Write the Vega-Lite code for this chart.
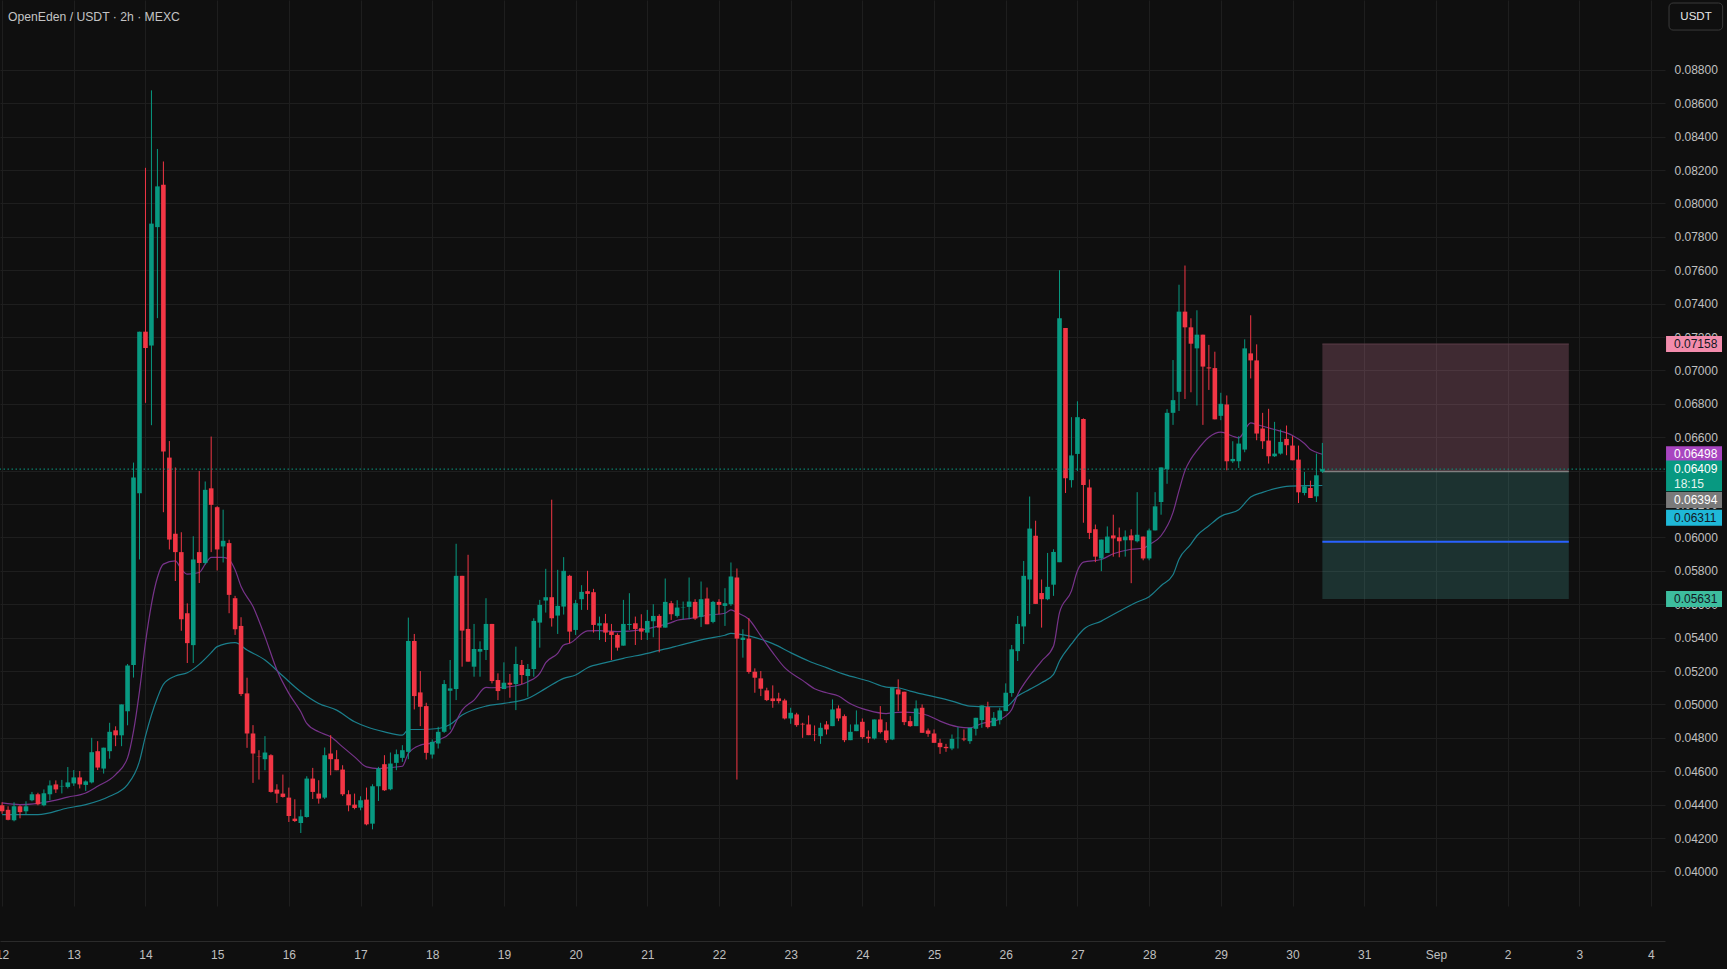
{
"$schema":"https://vega.github.io/schema/vega-lite/v6.json",
"width":1665,"height":906,
"autosize":{"type":"none"},
"padding":{"left":0,"top":0,"right":62,"bottom":63},
"background":"#0f0f0f",
"config":{"view":{"stroke":null},"font":"Liberation Sans","axisY":{"labelOverlap":false},"scale":{"continuousPadding":0}},
"title":{"text":"OpenEden / USDT · 2h · MEXC","anchor":"start","frame":"group","offset":-23.5,"dx":8,"fontSize":12.2,"fontWeight":"normal","color":"#c4c4c4","font":"Liberation Sans"},
"resolve":{"axis":{"x":"independent","y":"independent"}},
"datasets":{
"pos":[{"start":"2025-08-30T10:00","end":"2025-09-02T20:30","entry":0.06394,"stop":0.07158,"target":0.05631,"level":0.05974}],
"labels":[{"name":"stop","value":0.07158,"extra":""},{"name":"fast","value":0.06498,"extra":""},{"name":"last","value":0.06409,"extra":"18:15"},{"name":"entry","value":0.06394,"extra":""},{"name":"slow","value":0.06311,"extra":""},{"name":"target","value":0.05631,"extra":""}],
"fast":[{"t":"2025-08-12T00:00","v":0.0441},{"t":"2025-08-12T06:00","v":0.0440},{"t":"2025-08-12T16:00","v":0.0442},{"t":"2025-08-12T22:00","v":0.04445},{"t":"2025-08-13T04:00","v":0.0447},{"t":"2025-08-13T08:00","v":0.0451},{"t":"2025-08-13T14:00","v":0.0458},{"t":"2025-08-13T18:00","v":0.0468},{"t":"2025-08-13T20:00","v":0.0484},{"t":"2025-08-13T22:00","v":0.0508},{"t":"2025-08-14T00:00","v":0.0537},{"t":"2025-08-14T04:00","v":0.0576},{"t":"2025-08-14T06:00","v":0.0584},{"t":"2025-08-14T10:00","v":0.0586},{"t":"2025-08-14T12:00","v":0.0581},{"t":"2025-08-14T14:00","v":0.0578},{"t":"2025-08-14T18:00","v":0.0579},{"t":"2025-08-14T20:00","v":0.0584},{"t":"2025-08-14T22:00","v":0.0588},{"t":"2025-08-15T02:00","v":0.0588},{"t":"2025-08-15T04:00","v":0.05866},{"t":"2025-08-15T06:00","v":0.05806},{"t":"2025-08-15T08:00","v":0.05706},{"t":"2025-08-15T12:00","v":0.05586},{"t":"2025-08-15T16:00","v":0.05406},{"t":"2025-08-15T20:00","v":0.05206},{"t":"2025-08-16T00:00","v":0.05066},{"t":"2025-08-16T04:00","v":0.04956},{"t":"2025-08-16T06:00","v":0.04886},{"t":"2025-08-16T10:00","v":0.04836},{"t":"2025-08-16T14:00","v":0.04806},{"t":"2025-08-16T18:00","v":0.04746},{"t":"2025-08-16T22:00","v":0.04686},{"t":"2025-08-17T02:00","v":0.04626},{"t":"2025-08-17T06:00","v":0.04616},{"t":"2025-08-17T10:00","v":0.04622},{"t":"2025-08-17T14:00","v":0.0463},{"t":"2025-08-17T16:00","v":0.04706},{"t":"2025-08-17T20:00","v":0.04756},{"t":"2025-08-18T00:00","v":0.0477},{"t":"2025-08-18T02:00","v":0.04786},{"t":"2025-08-18T06:00","v":0.0483},{"t":"2025-08-18T10:00","v":0.04966},{"t":"2025-08-18T14:00","v":0.05026},{"t":"2025-08-18T18:00","v":0.05102},{"t":"2025-08-18T20:00","v":0.051},{"t":"2025-08-19T02:00","v":0.05106},{"t":"2025-08-19T08:00","v":0.05136},{"t":"2025-08-19T12:00","v":0.05186},{"t":"2025-08-19T14:00","v":0.0525},{"t":"2025-08-19T18:00","v":0.05306},{"t":"2025-08-19T20:00","v":0.05356},{"t":"2025-08-19T22:00","v":0.05366},{"t":"2025-08-20T04:00","v":0.0544},{"t":"2025-08-20T08:00","v":0.05442},{"t":"2025-08-20T14:00","v":0.05436},{"t":"2025-08-20T22:00","v":0.05446},{"t":"2025-08-21T04:00","v":0.0547},{"t":"2025-08-21T08:00","v":0.0549},{"t":"2025-08-21T10:00","v":0.05504},{"t":"2025-08-21T14:00","v":0.05514},{"t":"2025-08-21T20:00","v":0.05534},{"t":"2025-08-22T02:00","v":0.05546},{"t":"2025-08-22T04:00","v":0.05566},{"t":"2025-08-22T06:00","v":0.0555},{"t":"2025-08-22T10:00","v":0.0551},{"t":"2025-08-22T14:00","v":0.0541},{"t":"2025-08-22T18:00","v":0.0531},{"t":"2025-08-22T22:00","v":0.0522},{"t":"2025-08-23T04:00","v":0.05144},{"t":"2025-08-23T08:00","v":0.05094},{"t":"2025-08-23T12:00","v":0.0507},{"t":"2025-08-23T16:00","v":0.0505},{"t":"2025-08-23T20:00","v":0.05004},{"t":"2025-08-24T02:00","v":0.04964},{"t":"2025-08-24T08:00","v":0.04945},{"t":"2025-08-24T10:00","v":0.0495},{"t":"2025-08-24T14:00","v":0.04954},{"t":"2025-08-24T18:00","v":0.0495},{"t":"2025-08-24T22:00","v":0.04934},{"t":"2025-08-25T02:00","v":0.049},{"t":"2025-08-25T08:00","v":0.04866},{"t":"2025-08-25T12:00","v":0.0486},{"t":"2025-08-25T16:00","v":0.04886},{"t":"2025-08-25T20:00","v":0.049},{"t":"2025-08-26T00:00","v":0.0493},{"t":"2025-08-26T02:00","v":0.0497},{"t":"2025-08-26T04:00","v":0.0506},{"t":"2025-08-26T06:00","v":0.0512},{"t":"2025-08-26T08:00","v":0.0517},{"t":"2025-08-26T12:00","v":0.0526},{"t":"2025-08-26T16:00","v":0.0535},{"t":"2025-08-26T18:00","v":0.0555},{"t":"2025-08-26T22:00","v":0.0568},{"t":"2025-08-27T00:00","v":0.058},{"t":"2025-08-27T02:00","v":0.05852},{"t":"2025-08-27T08:00","v":0.05868},{"t":"2025-08-27T12:00","v":0.05902},{"t":"2025-08-27T18:00","v":0.05929},{"t":"2025-08-27T22:00","v":0.05935},{"t":"2025-08-28T00:00","v":0.05957},{"t":"2025-08-28T04:00","v":0.0601},{"t":"2025-08-28T08:00","v":0.0615},{"t":"2025-08-28T10:00","v":0.0628},{"t":"2025-08-28T12:00","v":0.064},{"t":"2025-08-28T14:00","v":0.0647},{"t":"2025-08-28T16:00","v":0.0652},{"t":"2025-08-28T20:00","v":0.066},{"t":"2025-08-29T00:00","v":0.0663},{"t":"2025-08-29T04:00","v":0.06606},{"t":"2025-08-29T06:00","v":0.06596},{"t":"2025-08-29T10:00","v":0.06686},{"t":"2025-08-29T12:00","v":0.06676},{"t":"2025-08-29T18:00","v":0.06646},{"t":"2025-08-29T22:00","v":0.06626},{"t":"2025-08-30T00:00","v":0.0661},{"t":"2025-08-30T04:00","v":0.06562},{"t":"2025-08-30T06:00","v":0.06526},{"t":"2025-08-30T08:00","v":0.0651},{"t":"2025-08-30T10:00","v":0.06498}],
"slow":[{"t":"2025-08-12T00:00","v":0.0434},{"t":"2025-08-12T12:00","v":0.0434},{"t":"2025-08-12T22:00","v":0.0438},{"t":"2025-08-13T04:00","v":0.044},{"t":"2025-08-13T12:00","v":0.0445},{"t":"2025-08-13T18:00","v":0.0452},{"t":"2025-08-13T22:00","v":0.0466},{"t":"2025-08-14T00:00","v":0.0481},{"t":"2025-08-14T04:00","v":0.0504},{"t":"2025-08-14T06:00","v":0.0512},{"t":"2025-08-14T10:00","v":0.0517},{"t":"2025-08-14T14:00","v":0.0519},{"t":"2025-08-14T18:00","v":0.0524},{"t":"2025-08-14T22:00","v":0.0531},{"t":"2025-08-15T00:00","v":0.05346},{"t":"2025-08-15T06:00","v":0.0537},{"t":"2025-08-15T10:00","v":0.05326},{"t":"2025-08-15T16:00","v":0.05266},{"t":"2025-08-15T22:00","v":0.0517},{"t":"2025-08-16T04:00","v":0.05076},{"t":"2025-08-16T10:00","v":0.05006},{"t":"2025-08-16T16:00","v":0.04966},{"t":"2025-08-16T22:00","v":0.04896},{"t":"2025-08-17T02:00","v":0.04866},{"t":"2025-08-17T08:00","v":0.04836},{"t":"2025-08-17T14:00","v":0.04816},{"t":"2025-08-17T16:00","v":0.0485},{"t":"2025-08-17T20:00","v":0.0485},{"t":"2025-08-18T02:00","v":0.04856},{"t":"2025-08-18T06:00","v":0.0488},{"t":"2025-08-18T10:00","v":0.04936},{"t":"2025-08-18T18:00","v":0.0499},{"t":"2025-08-19T00:00","v":0.05006},{"t":"2025-08-19T08:00","v":0.05036},{"t":"2025-08-19T14:00","v":0.05096},{"t":"2025-08-19T20:00","v":0.05156},{"t":"2025-08-20T00:00","v":0.05176},{"t":"2025-08-20T04:00","v":0.0522},{"t":"2025-08-20T10:00","v":0.0525},{"t":"2025-08-20T16:00","v":0.05276},{"t":"2025-08-21T00:00","v":0.05306},{"t":"2025-08-21T04:00","v":0.05324},{"t":"2025-08-21T08:00","v":0.0534},{"t":"2025-08-21T10:00","v":0.0535},{"t":"2025-08-21T16:00","v":0.05378},{"t":"2025-08-21T20:00","v":0.05394},{"t":"2025-08-22T02:00","v":0.05414},{"t":"2025-08-22T04:00","v":0.05426},{"t":"2025-08-22T10:00","v":0.0541},{"t":"2025-08-22T14:00","v":0.0539},{"t":"2025-08-22T18:00","v":0.05364},{"t":"2025-08-23T00:00","v":0.0531},{"t":"2025-08-23T06:00","v":0.0526},{"t":"2025-08-23T12:00","v":0.0522},{"t":"2025-08-23T18:00","v":0.0518},{"t":"2025-08-24T02:00","v":0.0514},{"t":"2025-08-24T08:00","v":0.05104},{"t":"2025-08-24T12:00","v":0.051},{"t":"2025-08-24T16:00","v":0.0508},{"t":"2025-08-24T22:00","v":0.05054},{"t":"2025-08-25T06:00","v":0.0502},{"t":"2025-08-25T12:00","v":0.0499},{"t":"2025-08-25T18:00","v":0.04986},{"t":"2025-08-26T00:00","v":0.04986},{"t":"2025-08-26T04:00","v":0.0505},{"t":"2025-08-26T08:00","v":0.0509},{"t":"2025-08-26T12:00","v":0.0513},{"t":"2025-08-26T16:00","v":0.0518},{"t":"2025-08-26T18:00","v":0.0526},{"t":"2025-08-26T22:00","v":0.05362},{"t":"2025-08-27T02:00","v":0.05449},{"t":"2025-08-27T08:00","v":0.05499},{"t":"2025-08-27T14:00","v":0.05558},{"t":"2025-08-27T20:00","v":0.05613},{"t":"2025-08-28T00:00","v":0.05645},{"t":"2025-08-28T04:00","v":0.05711},{"t":"2025-08-28T08:00","v":0.05776},{"t":"2025-08-28T10:00","v":0.0587},{"t":"2025-08-28T14:00","v":0.0596},{"t":"2025-08-28T16:00","v":0.0601},{"t":"2025-08-28T20:00","v":0.0607},{"t":"2025-08-29T00:00","v":0.06126},{"t":"2025-08-29T06:00","v":0.06166},{"t":"2025-08-29T10:00","v":0.06242},{"t":"2025-08-29T14:00","v":0.0627},{"t":"2025-08-29T22:00","v":0.06306},{"t":"2025-08-30T04:00","v":0.0631},{"t":"2025-08-30T10:00","v":0.06311}],
"candles":[
{"t":"2025-08-12T00:00","o":0.04396,"h":0.04414,"l":0.04345,"c":0.04360},
{"t":"2025-08-12T02:00","o":0.04369,"h":0.04390,"l":0.04306,"c":0.04309},
{"t":"2025-08-12T04:00","o":0.04306,"h":0.04414,"l":0.04300,"c":0.04390},
{"t":"2025-08-12T06:00","o":0.04390,"h":0.04396,"l":0.04318,"c":0.04355},
{"t":"2025-08-12T08:00","o":0.04360,"h":0.04420,"l":0.04340,"c":0.04390},
{"t":"2025-08-12T10:00","o":0.04426,"h":0.04476,"l":0.04420,"c":0.04462},
{"t":"2025-08-12T12:00","o":0.04462,"h":0.04471,"l":0.04396,"c":0.04402},
{"t":"2025-08-12T14:00","o":0.04396,"h":0.04491,"l":0.04390,"c":0.04468},
{"t":"2025-08-12T16:00","o":0.04462,"h":0.04545,"l":0.04426,"c":0.04515},
{"t":"2025-08-12T18:00","o":0.04521,"h":0.04545,"l":0.04470,"c":0.04491},
{"t":"2025-08-12T20:00","o":0.04509,"h":0.04548,"l":0.04467,"c":0.04512},
{"t":"2025-08-12T22:00","o":0.04506,"h":0.04625,"l":0.04497,"c":0.04533},
{"t":"2025-08-13T00:00","o":0.04527,"h":0.04607,"l":0.04512,"c":0.04563},
{"t":"2025-08-13T02:00","o":0.04563,"h":0.04601,"l":0.04497,"c":0.04521},
{"t":"2025-08-13T04:00","o":0.04518,"h":0.04545,"l":0.04482,"c":0.04539},
{"t":"2025-08-13T06:00","o":0.04533,"h":0.04800,"l":0.04527,"c":0.04714},
{"t":"2025-08-13T08:00","o":0.04720,"h":0.04780,"l":0.04607,"c":0.04622},
{"t":"2025-08-13T10:00","o":0.04616,"h":0.04741,"l":0.04586,"c":0.04741},
{"t":"2025-08-13T12:00","o":0.04720,"h":0.04890,"l":0.04675,"c":0.04836},
{"t":"2025-08-13T14:00","o":0.04845,"h":0.04869,"l":0.04750,"c":0.04815},
{"t":"2025-08-13T16:00","o":0.04815,"h":0.05000,"l":0.04750,"c":0.05000},
{"t":"2025-08-13T18:00","o":0.04959,"h":0.05242,"l":0.04875,"c":0.05233},
{"t":"2025-08-13T20:00","o":0.05236,"h":0.06448,"l":0.05161,"c":0.06359},
{"t":"2025-08-13T22:00","o":0.06264,"h":0.07232,"l":0.05868,"c":0.07232},
{"t":"2025-08-14T00:00","o":0.07232,"h":0.08213,"l":0.06806,"c":0.07134},
{"t":"2025-08-14T02:00","o":0.07149,"h":0.08677,"l":0.06672,"c":0.07879},
{"t":"2025-08-14T04:00","o":0.07858,"h":0.08326,"l":0.07313,"c":0.08102},
{"t":"2025-08-14T06:00","o":0.08111,"h":0.08251,"l":0.06151,"c":0.06514},
{"t":"2025-08-14T08:00","o":0.06478,"h":0.06577,"l":0.05928,"c":0.05987},
{"t":"2025-08-14T10:00","o":0.06022,"h":0.06419,"l":0.05739,"c":0.05912},
{"t":"2025-08-14T12:00","o":0.05912,"h":0.06031,"l":0.05441,"c":0.05510},
{"t":"2025-08-14T14:00","o":0.05546,"h":0.05605,"l":0.05248,"c":0.05367},
{"t":"2025-08-14T16:00","o":0.05355,"h":0.06007,"l":0.05248,"c":0.05868},
{"t":"2025-08-14T18:00","o":0.05912,"h":0.06398,"l":0.05727,"c":0.05847},
{"t":"2025-08-14T20:00","o":0.05847,"h":0.06335,"l":0.05838,"c":0.06285},
{"t":"2025-08-14T22:00","o":0.06294,"h":0.06604,"l":0.05912,"c":0.06195},
{"t":"2025-08-15T00:00","o":0.06181,"h":0.06187,"l":0.05802,"c":0.05928},
{"t":"2025-08-15T02:00","o":0.05946,"h":0.06166,"l":0.0585,"c":0.0598},
{"t":"2025-08-15T04:00","o":0.05966,"h":0.05986,"l":0.05546,"c":0.05656},
{"t":"2025-08-15T06:00","o":0.05636,"h":0.0565,"l":0.05416,"c":0.0545},
{"t":"2025-08-15T08:00","o":0.0547,"h":0.05522,"l":0.0505,"c":0.05062},
{"t":"2025-08-15T10:00","o":0.05066,"h":0.0516,"l":0.0474,"c":0.04826},
{"t":"2025-08-15T12:00","o":0.04826,"h":0.04876,"l":0.0453,"c":0.04706},
{"t":"2025-08-15T14:00","o":0.0469,"h":0.04726,"l":0.0455,"c":0.04688},
{"t":"2025-08-15T16:00","o":0.04672,"h":0.0481,"l":0.04606,"c":0.04712},
{"t":"2025-08-15T18:00","o":0.04696,"h":0.04702,"l":0.04472,"c":0.04476},
{"t":"2025-08-15T20:00","o":0.0449,"h":0.04522,"l":0.0441,"c":0.04466},
{"t":"2025-08-15T22:00","o":0.04466,"h":0.0458,"l":0.04442,"c":0.04446},
{"t":"2025-08-16T00:00","o":0.04442,"h":0.04502,"l":0.04296,"c":0.04332},
{"t":"2025-08-16T02:00","o":0.04316,"h":0.04432,"l":0.04296,"c":0.04302},
{"t":"2025-08-16T04:00","o":0.0429,"h":0.0437,"l":0.0423,"c":0.0433},
{"t":"2025-08-16T06:00","o":0.04326,"h":0.0457,"l":0.04322,"c":0.04556},
{"t":"2025-08-16T08:00","o":0.04556,"h":0.0462,"l":0.04434,"c":0.04476},
{"t":"2025-08-16T10:00","o":0.04466,"h":0.04546,"l":0.04406,"c":0.04436},
{"t":"2025-08-16T12:00","o":0.04442,"h":0.04742,"l":0.04434,"c":0.04696},
{"t":"2025-08-16T14:00","o":0.04706,"h":0.04816,"l":0.04576,"c":0.04672},
{"t":"2025-08-16T16:00","o":0.04672,"h":0.04726,"l":0.04606,"c":0.04606},
{"t":"2025-08-16T18:00","o":0.0461,"h":0.04636,"l":0.04452,"c":0.04462},
{"t":"2025-08-16T20:00","o":0.04462,"h":0.04486,"l":0.0436,"c":0.04396},
{"t":"2025-08-16T22:00","o":0.044,"h":0.04466,"l":0.04372,"c":0.0438},
{"t":"2025-08-17T00:00","o":0.04382,"h":0.0445,"l":0.04366,"c":0.04426},
{"t":"2025-08-17T02:00","o":0.0443,"h":0.04502,"l":0.04276,"c":0.04282},
{"t":"2025-08-17T04:00","o":0.04286,"h":0.04522,"l":0.04252,"c":0.0451},
{"t":"2025-08-17T06:00","o":0.0451,"h":0.04626,"l":0.04422,"c":0.04616},
{"t":"2025-08-17T08:00","o":0.04642,"h":0.04696,"l":0.04482,"c":0.04486},
{"t":"2025-08-17T10:00","o":0.04492,"h":0.04712,"l":0.04486,"c":0.04646},
{"t":"2025-08-17T12:00","o":0.0465,"h":0.0473,"l":0.04606,"c":0.04702},
{"t":"2025-08-17T14:00","o":0.0468,"h":0.04756,"l":0.04656,"c":0.04726},
{"t":"2025-08-17T16:00","o":0.04716,"h":0.0552,"l":0.04672,"c":0.0538},
{"t":"2025-08-17T18:00","o":0.0538,"h":0.05422,"l":0.0497,"c":0.0505},
{"t":"2025-08-17T20:00","o":0.05072,"h":0.052,"l":0.0487,"c":0.04986},
{"t":"2025-08-17T22:00","o":0.0499,"h":0.0501,"l":0.0467,"c":0.0471},
{"t":"2025-08-18T00:00","o":0.047,"h":0.0479,"l":0.04676,"c":0.04776},
{"t":"2025-08-18T02:00","o":0.04766,"h":0.04866,"l":0.04736,"c":0.04836},
{"t":"2025-08-18T04:00","o":0.04836,"h":0.05146,"l":0.0483,"c":0.05122},
{"t":"2025-08-18T06:00","o":0.05082,"h":0.05266,"l":0.0485,"c":0.05096},
{"t":"2025-08-18T08:00","o":0.05092,"h":0.05962,"l":0.05026,"c":0.0577},
{"t":"2025-08-18T10:00","o":0.0577,"h":0.0577,"l":0.05226,"c":0.05442},
{"t":"2025-08-18T12:00","o":0.05452,"h":0.05896,"l":0.05256,"c":0.05256},
{"t":"2025-08-18T14:00","o":0.05226,"h":0.05482,"l":0.05166,"c":0.05332},
{"t":"2025-08-18T16:00","o":0.05316,"h":0.05378,"l":0.05166,"c":0.05332},
{"t":"2025-08-18T18:00","o":0.05326,"h":0.05636,"l":0.05266,"c":0.05482},
{"t":"2025-08-18T20:00","o":0.05482,"h":0.05482,"l":0.05126,"c":0.0514},
{"t":"2025-08-18T22:00","o":0.05146,"h":0.05186,"l":0.05026,"c":0.0508},
{"t":"2025-08-19T00:00","o":0.05092,"h":0.05252,"l":0.05092,"c":0.0513},
{"t":"2025-08-19T02:00","o":0.0513,"h":0.05182,"l":0.0504,"c":0.05118},
{"t":"2025-08-19T04:00","o":0.05122,"h":0.05346,"l":0.04966,"c":0.05242},
{"t":"2025-08-19T06:00","o":0.05236,"h":0.05266,"l":0.05122,"c":0.05176},
{"t":"2025-08-19T08:00","o":0.0517,"h":0.05242,"l":0.05046,"c":0.05212},
{"t":"2025-08-19T10:00","o":0.05212,"h":0.05516,"l":0.05166,"c":0.055},
{"t":"2025-08-19T12:00","o":0.0549,"h":0.05626,"l":0.0534,"c":0.05596},
{"t":"2025-08-19T14:00","o":0.05622,"h":0.05812,"l":0.0555,"c":0.05642},
{"t":"2025-08-19T16:00","o":0.05642,"h":0.06226,"l":0.05466,"c":0.05516},
{"t":"2025-08-19T18:00","o":0.05532,"h":0.05806,"l":0.05422,"c":0.0559},
{"t":"2025-08-19T20:00","o":0.05586,"h":0.05882,"l":0.05538,"c":0.058},
{"t":"2025-08-19T22:00","o":0.0577,"h":0.05776,"l":0.05366,"c":0.05436},
{"t":"2025-08-20T00:00","o":0.05446,"h":0.05626,"l":0.05416,"c":0.05606},
{"t":"2025-08-20T02:00","o":0.0563,"h":0.05714,"l":0.05566,"c":0.05674},
{"t":"2025-08-20T04:00","o":0.05678,"h":0.058,"l":0.05566,"c":0.05662},
{"t":"2025-08-20T06:00","o":0.05672,"h":0.05692,"l":0.0543,"c":0.05476},
{"t":"2025-08-20T08:00","o":0.05472,"h":0.05526,"l":0.05386,"c":0.05486},
{"t":"2025-08-20T10:00","o":0.05486,"h":0.05542,"l":0.05374,"c":0.0543},
{"t":"2025-08-20T12:00","o":0.05436,"h":0.05482,"l":0.05266,"c":0.05416},
{"t":"2025-08-20T14:00","o":0.05416,"h":0.05426,"l":0.05322,"c":0.0534},
{"t":"2025-08-20T16:00","o":0.05352,"h":0.05626,"l":0.05352,"c":0.05482},
{"t":"2025-08-20T18:00","o":0.05476,"h":0.05666,"l":0.05446,"c":0.05482},
{"t":"2025-08-20T20:00","o":0.05486,"h":0.05526,"l":0.05356,"c":0.05452},
{"t":"2025-08-20T22:00","o":0.05456,"h":0.0554,"l":0.05386,"c":0.05436},
{"t":"2025-08-21T00:00","o":0.0543,"h":0.05566,"l":0.05386,"c":0.055},
{"t":"2025-08-21T02:00","o":0.05498,"h":0.056,"l":0.05402,"c":0.0553},
{"t":"2025-08-21T04:00","o":0.0553,"h":0.0554,"l":0.05312,"c":0.0546},
{"t":"2025-08-21T06:00","o":0.0546,"h":0.05754,"l":0.0546,"c":0.05614},
{"t":"2025-08-21T08:00","o":0.05606,"h":0.0562,"l":0.05506,"c":0.0554},
{"t":"2025-08-21T10:00","o":0.0553,"h":0.05624,"l":0.0552,"c":0.0558},
{"t":"2025-08-21T12:00","o":0.0558,"h":0.05616,"l":0.0551,"c":0.05582},
{"t":"2025-08-21T14:00","o":0.05584,"h":0.0576,"l":0.0551,"c":0.05616},
{"t":"2025-08-21T16:00","o":0.05614,"h":0.0563,"l":0.05506,"c":0.05514},
{"t":"2025-08-21T18:00","o":0.05524,"h":0.05736,"l":0.05464,"c":0.0563},
{"t":"2025-08-21T20:00","o":0.05634,"h":0.057,"l":0.0548,"c":0.0548},
{"t":"2025-08-21T22:00","o":0.05494,"h":0.0562,"l":0.05486,"c":0.05614},
{"t":"2025-08-22T00:00","o":0.05614,"h":0.0563,"l":0.0554,"c":0.05596},
{"t":"2025-08-22T02:00","o":0.0559,"h":0.05696,"l":0.0547,"c":0.05606},
{"t":"2025-08-22T04:00","o":0.056,"h":0.0585,"l":0.0559,"c":0.05766},
{"t":"2025-08-22T06:00","o":0.0576,"h":0.05814,"l":0.0455,"c":0.05394},
{"t":"2025-08-22T08:00","o":0.05386,"h":0.0545,"l":0.0528,"c":0.054},
{"t":"2025-08-22T10:00","o":0.05394,"h":0.05516,"l":0.05184,"c":0.05194},
{"t":"2025-08-22T12:00","o":0.05196,"h":0.05216,"l":0.0507,"c":0.0516},
{"t":"2025-08-22T14:00","o":0.05156,"h":0.052,"l":0.0505,"c":0.05094},
{"t":"2025-08-22T16:00","o":0.05084,"h":0.051,"l":0.0502,"c":0.05026},
{"t":"2025-08-22T18:00","o":0.05036,"h":0.05114,"l":0.0498,"c":0.0502},
{"t":"2025-08-22T20:00","o":0.05036,"h":0.0507,"l":0.05006,"c":0.0502},
{"t":"2025-08-22T22:00","o":0.05024,"h":0.05034,"l":0.0491,"c":0.04916},
{"t":"2025-08-23T00:00","o":0.04916,"h":0.0498,"l":0.04884,"c":0.0495},
{"t":"2025-08-23T02:00","o":0.0494,"h":0.0495,"l":0.04866,"c":0.04876},
{"t":"2025-08-23T04:00","o":0.04884,"h":0.0489,"l":0.048,"c":0.0488},
{"t":"2025-08-23T06:00","o":0.0488,"h":0.04934,"l":0.04816,"c":0.04816},
{"t":"2025-08-23T08:00","o":0.04822,"h":0.04874,"l":0.0478,"c":0.0482},
{"t":"2025-08-23T10:00","o":0.0481,"h":0.0489,"l":0.04764,"c":0.0486},
{"t":"2025-08-23T12:00","o":0.0488,"h":0.049,"l":0.0482,"c":0.0485},
{"t":"2025-08-23T14:00","o":0.0487,"h":0.0503,"l":0.0487,"c":0.0497},
{"t":"2025-08-23T16:00","o":0.04976,"h":0.04994,"l":0.049,"c":0.04916},
{"t":"2025-08-23T18:00","o":0.0493,"h":0.0494,"l":0.04774,"c":0.04786},
{"t":"2025-08-23T20:00","o":0.04786,"h":0.0488,"l":0.04786,"c":0.04836},
{"t":"2025-08-23T22:00","o":0.0484,"h":0.04964,"l":0.0484,"c":0.0488},
{"t":"2025-08-24T00:00","o":0.04896,"h":0.04916,"l":0.04794,"c":0.04804},
{"t":"2025-08-24T02:00","o":0.04806,"h":0.04844,"l":0.0477,"c":0.04796},
{"t":"2025-08-24T04:00","o":0.04796,"h":0.0491,"l":0.0479,"c":0.0491},
{"t":"2025-08-24T06:00","o":0.0491,"h":0.0499,"l":0.04826,"c":0.04834},
{"t":"2025-08-24T08:00","o":0.04844,"h":0.04894,"l":0.0477,"c":0.04786},
{"t":"2025-08-24T10:00","o":0.0479,"h":0.051,"l":0.04786,"c":0.051},
{"t":"2025-08-24T12:00","o":0.0509,"h":0.0515,"l":0.0496,"c":0.0506},
{"t":"2025-08-24T14:00","o":0.05076,"h":0.05076,"l":0.04876,"c":0.04894},
{"t":"2025-08-24T16:00","o":0.049,"h":0.0493,"l":0.04866,"c":0.0487},
{"t":"2025-08-24T18:00","o":0.0487,"h":0.05024,"l":0.0487,"c":0.04976},
{"t":"2025-08-24T20:00","o":0.0498,"h":0.05,"l":0.0483,"c":0.0483},
{"t":"2025-08-24T22:00","o":0.04844,"h":0.04856,"l":0.04806,"c":0.04824},
{"t":"2025-08-25T00:00","o":0.04826,"h":0.0485,"l":0.0477,"c":0.0477},
{"t":"2025-08-25T02:00","o":0.0477,"h":0.04794,"l":0.04704,"c":0.04744},
{"t":"2025-08-25T04:00","o":0.04746,"h":0.04764,"l":0.04716,"c":0.04738},
{"t":"2025-08-25T06:00","o":0.04736,"h":0.0482,"l":0.04726,"c":0.04794},
{"t":"2025-08-25T08:00","o":0.04798,"h":0.04864,"l":0.04736,"c":0.048},
{"t":"2025-08-25T10:00","o":0.04796,"h":0.0485,"l":0.0478,"c":0.0479},
{"t":"2025-08-25T12:00","o":0.0478,"h":0.0486,"l":0.04764,"c":0.0486},
{"t":"2025-08-25T14:00","o":0.04854,"h":0.0492,"l":0.04814,"c":0.0492},
{"t":"2025-08-25T16:00","o":0.04906,"h":0.04994,"l":0.0486,"c":0.04994},
{"t":"2025-08-25T18:00","o":0.04984,"h":0.05016,"l":0.04856,"c":0.04864},
{"t":"2025-08-25T20:00","o":0.0487,"h":0.04954,"l":0.0487,"c":0.0492},
{"t":"2025-08-25T22:00","o":0.04906,"h":0.0498,"l":0.0488,"c":0.04964},
{"t":"2025-08-26T00:00","o":0.0496,"h":0.05126,"l":0.0496,"c":0.0507},
{"t":"2025-08-26T02:00","o":0.05068,"h":0.05356,"l":0.05046,"c":0.0533},
{"t":"2025-08-26T04:00","o":0.05319,"h":0.0553,"l":0.0526,"c":0.05482},
{"t":"2025-08-26T06:00","o":0.05467,"h":0.05859,"l":0.05362,"c":0.0577},
{"t":"2025-08-26T08:00","o":0.05748,"h":0.06245,"l":0.05541,"c":0.06053},
{"t":"2025-08-26T10:00","o":0.0601,"h":0.061,"l":0.05602,"c":0.05602},
{"t":"2025-08-26T12:00","o":0.05667,"h":0.05748,"l":0.0546,"c":0.0563},
{"t":"2025-08-26T14:00","o":0.0563,"h":0.05907,"l":0.05624,"c":0.05704},
{"t":"2025-08-26T16:00","o":0.05717,"h":0.05929,"l":0.0565,"c":0.05913},
{"t":"2025-08-26T18:00","o":0.05852,"h":0.076,"l":0.05852,"c":0.07312},
{"t":"2025-08-26T20:00","o":0.07254,"h":0.07254,"l":0.06266,"c":0.06354},
{"t":"2025-08-26T22:00","o":0.06343,"h":0.0672,"l":0.06299,"c":0.06491},
{"t":"2025-08-27T00:00","o":0.065,"h":0.06815,"l":0.06397,"c":0.0672},
{"t":"2025-08-27T02:00","o":0.06709,"h":0.06713,"l":0.06088,"c":0.06314},
{"t":"2025-08-27T04:00","o":0.06299,"h":0.06347,"l":0.0599,"c":0.06027},
{"t":"2025-08-27T06:00","o":0.06049,"h":0.06077,"l":0.05852,"c":0.05885},
{"t":"2025-08-27T08:00","o":0.05874,"h":0.05987,"l":0.05798,"c":0.05987},
{"t":"2025-08-27T10:00","o":0.05907,"h":0.06066,"l":0.05907,"c":0.06005},
{"t":"2025-08-27T12:00","o":0.06012,"h":0.06136,"l":0.05885,"c":0.05994},
{"t":"2025-08-27T14:00","o":0.06001,"h":0.06059,"l":0.05881,"c":0.05977},
{"t":"2025-08-27T16:00","o":0.05983,"h":0.06042,"l":0.05885,"c":0.06005},
{"t":"2025-08-27T18:00","o":0.06012,"h":0.06049,"l":0.05726,"c":0.05983},
{"t":"2025-08-27T20:00","o":0.05977,"h":0.06271,"l":0.0597,"c":0.06016},
{"t":"2025-08-27T22:00","o":0.06005,"h":0.06005,"l":0.05863,"c":0.05874},
{"t":"2025-08-28T00:00","o":0.05874,"h":0.06053,"l":0.05863,"c":0.06042},
{"t":"2025-08-28T02:00","o":0.06042,"h":0.06271,"l":0.06042,"c":0.06186},
{"t":"2025-08-28T04:00","o":0.06212,"h":0.06419,"l":0.06136,"c":0.06419},
{"t":"2025-08-28T06:00","o":0.06408,"h":0.06768,"l":0.06321,"c":0.06746},
{"t":"2025-08-28T08:00","o":0.06746,"h":0.07062,"l":0.06674,"c":0.06822},
{"t":"2025-08-28T10:00","o":0.06872,"h":0.07513,"l":0.06757,"c":0.07352},
{"t":"2025-08-28T12:00","o":0.07352,"h":0.07628,"l":0.06829,"c":0.07258},
{"t":"2025-08-28T14:00","o":0.07258,"h":0.07312,"l":0.06869,"c":0.0716},
{"t":"2025-08-28T16:00","o":0.07132,"h":0.0736,"l":0.0679,"c":0.07214},
{"t":"2025-08-28T18:00","o":0.07214,"h":0.07214,"l":0.06674,"c":0.07023},
{"t":"2025-08-28T20:00","o":0.07018,"h":0.07153,"l":0.06883,"c":0.07012},
{"t":"2025-08-28T22:00","o":0.07014,"h":0.07112,"l":0.06707,"c":0.06707},
{"t":"2025-08-29T00:00","o":0.06728,"h":0.06866,"l":0.06702,"c":0.068},
{"t":"2025-08-29T02:00","o":0.06796,"h":0.0685,"l":0.06402,"c":0.06456},
{"t":"2025-08-29T04:00","o":0.06456,"h":0.06576,"l":0.06446,"c":0.0647},
{"t":"2025-08-29T06:00","o":0.06456,"h":0.06606,"l":0.06416,"c":0.06562},
{"t":"2025-08-29T08:00","o":0.06526,"h":0.07186,"l":0.0651,"c":0.07132},
{"t":"2025-08-29T10:00","o":0.07102,"h":0.0733,"l":0.06952,"c":0.0706},
{"t":"2025-08-29T12:00","o":0.0706,"h":0.07156,"l":0.06582,"c":0.06622},
{"t":"2025-08-29T14:00","o":0.06652,"h":0.06746,"l":0.0653,"c":0.06576},
{"t":"2025-08-29T16:00","o":0.0658,"h":0.0677,"l":0.06442,"c":0.06486},
{"t":"2025-08-29T18:00","o":0.06486,"h":0.06692,"l":0.06482,"c":0.06502},
{"t":"2025-08-29T20:00","o":0.06502,"h":0.06646,"l":0.06496,"c":0.06572},
{"t":"2025-08-29T22:00","o":0.0659,"h":0.0667,"l":0.06492,"c":0.06552},
{"t":"2025-08-30T00:00","o":0.0655,"h":0.06606,"l":0.06462,"c":0.06462},
{"t":"2025-08-30T02:00","o":0.06466,"h":0.0655,"l":0.06206,"c":0.0627},
{"t":"2025-08-30T04:00","o":0.06266,"h":0.06392,"l":0.06252,"c":0.06306},
{"t":"2025-08-30T06:00","o":0.06296,"h":0.0634,"l":0.06236,"c":0.06236},
{"t":"2025-08-30T08:00","o":0.06246,"h":0.06502,"l":0.06212,"c":0.06372},
{"t":"2025-08-30T10:00","o":0.06394,"h":0.06566,"l":0.06386,"c":0.06409}
]},
"layer":[
{"data":{"name":"pos"},"mark":{"type":"rect","color":"#ff96be","opacity":0.2},
 "encoding":{
  "x":{"field":"start","type":"temporal","title":null,
   "scale":{"domain":[{"year":2025,"month":8,"date":11,"hours":23,"minutes":18},{"year":2025,"month":9,"date":4,"hours":4,"minutes":42}],"padding":0,"nice":false},
   "axis":{"orient":"bottom","offset":35,"domainColor":"#2b2b2b","ticks":false,"grid":true,"gridColor":"#1e1e1e","labelColor":"#c0c0c0","labelFontSize":12,"labelPadding":8,"labelOverlap":false,"labelFlush":false,"labelBound":false,"tickCount":{"interval":"day","step":1},"labelExpr":"date(datum.value)==1 ? timeFormat(datum.value,'%b') : timeFormat(datum.value,'%-d')"}},
  "x2":{"field":"end"},
  "y":{"field":"stop","type":"quantitative","title":null,
   "scale":{"domain":[0.03793,0.09218],"nice":false,"zero":false,"padding":0},
   "axis":{"orient":"right","values":[0.040,0.042,0.044,0.046,0.048,0.050,0.052,0.054,0.056,0.058,0.060,0.062,0.064,0.066,0.068,0.070,0.072,0.074,0.076,0.078,0.080,0.082,0.084,0.086,0.088],"format":".5f","domain":false,"ticks":false,"grid":true,"gridColor":"#1e1e1e","labelColor":"#c0c0c0","labelFontSize":12,"labelPadding":9,"labelAlign":"left","labelOverlap":false}},
  "y2":{"field":"entry"}}},
{"data":{"name":"pos"},"mark":{"type":"rect","color":"#50beb4","opacity":0.2},
 "encoding":{"x":{"field":"start","type":"temporal","axis":null},"x2":{"field":"end"},"y":{"field":"entry","type":"quantitative","axis":null},"y2":{"field":"target"}}},
{"data":{"name":"pos"},"mark":{"type":"rule","color":"#5c3d48","strokeWidth":1},
 "encoding":{"x":{"field":"start","type":"temporal","axis":null},"x2":{"field":"end"},"y":{"field":"stop","type":"quantitative","axis":null}}},
{"data":{"name":"pos"},"mark":{"type":"rule","color":"#808080","strokeWidth":1.5},
 "encoding":{"x":{"field":"start","type":"temporal","axis":null},"x2":{"field":"end"},"y":{"field":"entry","type":"quantitative","axis":null}}},
{"data":{"name":"pos"},"mark":{"type":"rule","color":"#2962ff","strokeWidth":2},
 "encoding":{"x":{"field":"start","type":"temporal","axis":null},"x2":{"field":"end"},"y":{"field":"level","type":"quantitative","axis":null}}},
{"data":{"name":"slow"},"mark":{"type":"line","color":"#1b7f8c","strokeWidth":1.2,"interpolate":"monotone"},
 "encoding":{"x":{"field":"t","type":"temporal","axis":null},"y":{"field":"v","type":"quantitative","axis":null}}},
{"data":{"name":"fast"},"mark":{"type":"line","color":"#77338a","strokeWidth":1.2,"interpolate":"monotone"},
 "encoding":{"x":{"field":"t","type":"temporal","axis":null},"y":{"field":"v","type":"quantitative","axis":null}}},
{"data":{"name":"candles"},"mark":{"type":"rule","strokeWidth":1},
 "encoding":{"x":{"field":"t","type":"temporal","axis":null},"y":{"field":"l","type":"quantitative","axis":null},"y2":{"field":"h"},
  "color":{"condition":{"test":"datum.c >= datum.o","value":"#089981"},"value":"#f23645"}}},
{"data":{"name":"candles"},"mark":{"type":"bar","size":4.6,"minBandSize":1},
 "encoding":{"x":{"field":"t","type":"temporal","axis":null},"y":{"field":"o","type":"quantitative","axis":null},"y2":{"field":"c"},
  "color":{"condition":{"test":"datum.c >= datum.o","value":"#089981"},"value":"#f23645"}}},
{"data":{"name":"labels"},"transform":[{"filter":"datum.name=='last'"}],"mark":{"type":"rule","color":"#089981","strokeWidth":1,"strokeDash":[1.5,2.5]},
 "encoding":{"y":{"field":"value","type":"quantitative","axis":null}}},
{"mark":{"type":"rule","color":"#2b2b2b","strokeWidth":1},"encoding":{"y":{"datum":0.03793,"type":"quantitative","axis":null}}},
{"data":{"name":"labels"},"transform":[{"filter":"indexof(['stop','fast','target'], datum.name) >= 0"}],"mark":{"type":"rect","yOffset":-8,"y2Offset":8},
 "encoding":{"x":{"datum":{"year":2025,"month":9,"date":4,"hours":5,"minutes":3},"type":"temporal","axis":null},"x2":{"datum":{"year":2025,"month":9,"date":4,"hours":23,"minutes":47}},
  "y":{"field":"value","type":"quantitative","axis":null},"y2":{"field":"value"},
  "fill":{"field":"name","type":"nominal","legend":null,"scale":{"domain":["stop","fast","last","entry","slow","target"],"range":["#f28cac","#a845c0","#089981","#7a7a7a","#1fb8d8","#3dbd9e"]}}}},
{"data":{"name":"labels"},"transform":[{"filter":"datum.name=='last'"}],"mark":{"type":"rect","yOffset":-8.7,"y2Offset":22.2},
 "encoding":{"x":{"datum":{"year":2025,"month":9,"date":4,"hours":5,"minutes":3},"type":"temporal","axis":null},"x2":{"datum":{"year":2025,"month":9,"date":4,"hours":23,"minutes":47}},
  "y":{"field":"value","type":"quantitative","axis":null},"y2":{"field":"value"},
  "fill":{"field":"name","type":"nominal","legend":null}}},
{"data":{"name":"labels"},"transform":[{"filter":"datum.name=='entry'"}],"mark":{"type":"rect","yOffset":20.4,"y2Offset":36.4},
 "encoding":{"x":{"datum":{"year":2025,"month":9,"date":4,"hours":5,"minutes":3},"type":"temporal","axis":null},"x2":{"datum":{"year":2025,"month":9,"date":4,"hours":23,"minutes":47}},
  "y":{"field":"value","type":"quantitative","axis":null},"y2":{"field":"value"},
  "fill":{"field":"name","type":"nominal","legend":null}}},
{"data":{"name":"labels"},"transform":[{"filter":"datum.name=='slow'"}],"mark":{"type":"rect","yOffset":24.2,"y2Offset":40.2},
 "encoding":{"x":{"datum":{"year":2025,"month":9,"date":4,"hours":5,"minutes":3},"type":"temporal","axis":null},"x2":{"datum":{"year":2025,"month":9,"date":4,"hours":23,"minutes":47}},
  "y":{"field":"value","type":"quantitative","axis":null},"y2":{"field":"value"},
  "fill":{"field":"name","type":"nominal","legend":null}}},
{"data":{"name":"labels"},"transform":[{"filter":"indexof(['stop','fast','target','last'], datum.name) >= 0"}],"mark":{"type":"text","align":"left","baseline":"middle","fontSize":12},
 "encoding":{"x":{"datum":{"year":2025,"month":9,"date":4,"hours":7,"minutes":43},"type":"temporal","axis":null},
  "y":{"field":"value","type":"quantitative","axis":null},"text":{"field":"value","format":".5f"},
  "color":{"field":"name","type":"nominal","legend":null,"scale":{"domain":["stop","fast","last","entry","slow","target"],"range":["#131722","#ffffff","#ffffff","#ffffff","#131722","#131722"]}}}},
{"data":{"name":"labels"},"transform":[{"filter":"datum.name=='last'"}],"mark":{"type":"text","align":"left","baseline":"middle","fontSize":12,"yOffset":14.5,"color":"#e3f4ef"},
 "encoding":{"x":{"datum":{"year":2025,"month":9,"date":4,"hours":7,"minutes":43},"type":"temporal","axis":null},
  "y":{"field":"value","type":"quantitative","axis":null},"text":{"field":"extra"}}},
{"data":{"name":"labels"},"transform":[{"filter":"datum.name=='entry'"}],"mark":{"type":"text","align":"left","baseline":"middle","fontSize":12,"yOffset":28.4},
 "encoding":{"x":{"datum":{"year":2025,"month":9,"date":4,"hours":7,"minutes":43},"type":"temporal","axis":null},
  "y":{"field":"value","type":"quantitative","axis":null},"text":{"field":"value","format":".5f"},
  "color":{"field":"name","type":"nominal","legend":null}}},
{"data":{"name":"labels"},"transform":[{"filter":"datum.name=='slow'"}],"mark":{"type":"text","align":"left","baseline":"middle","fontSize":12,"yOffset":32.2},
 "encoding":{"x":{"datum":{"year":2025,"month":9,"date":4,"hours":7,"minutes":43},"type":"temporal","axis":null},
  "y":{"field":"value","type":"quantitative","axis":null},"text":{"field":"value","format":".5f"},
  "color":{"field":"name","type":"nominal","legend":null}}},
{"data":{"values":[{"unit":"USDT"}]},"mark":{"type":"rect","fill":"#0f0f0f","stroke":"#3a3a3a","strokeWidth":1,"cornerRadius":4},
 "encoding":{"x":{"datum":{"year":2025,"month":9,"date":4,"hours":6,"minutes":3},"type":"temporal","axis":null},"x2":{"datum":{"year":2025,"month":9,"date":5,"hours":0,"minutes":0}},
  "y":{"datum":0.0920,"type":"quantitative","axis":null},"y2":{"datum":0.09038}}},
{"data":{"values":[{"unit":"USDT"}]},"mark":{"type":"text","align":"center","baseline":"middle","fontSize":11.5,"color":"#e6e6e6"},
 "encoding":{"x":{"datum":{"year":2025,"month":9,"date":4,"hours":15,"minutes":5},"type":"temporal","axis":null},
  "y":{"datum":0.09119,"type":"quantitative","axis":null},"text":{"field":"unit"}}}
]
}
